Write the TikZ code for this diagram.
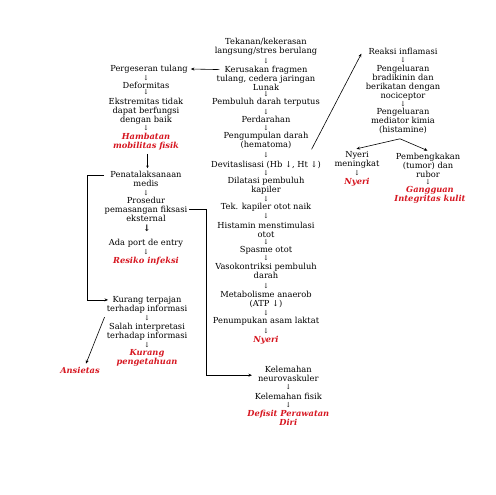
\documentclass[tikz,border=0pt]{standalone}
\usepackage{fontspec}
\setmainfont{DejaVu Serif}
\usetikzlibrary{arrows.meta}

\definecolor{diagred}{RGB}{214,22,32}

\tikzset{
    lbl/.style={font=\fontsize{8.3}{9}\selectfont, align=center, inner sep=0pt},
    warn/.style={lbl, font=\fontsize{8.3}{9}\selectfont\bfseries\itshape, text=diagred},
    dn/.style={lbl, font=\fontsize{7}{7}\selectfont},
    flow/.style={-{Stealth[length=3.5pt,width=3pt]}, line width=0.6pt},
}

\begin{document}
\begin{tikzpicture}[x=1pt,y=-1pt]

        \path[use as bounding box] (0,0) rectangle (495,495);

        %central chain
        \node[lbl] (tekanan) at (266,46.7) {Tekanan/kekerasan\\langsung/stres berulang};
        \node[dn] (c1) at (266,60.7) {↓};
        \node[lbl] (kerusakan) at (266,78) {Kerusakan fragmen\\tulang, cedera jaringan\\Lunak};
        \node[dn] (c2) at (266,94.3) {↓};
        \node[lbl] (pembuluh) at (266,102.7) {Pembuluh darah terputus};
        \node[dn] (c3) at (266,111.7) {↓};
        \node[lbl] (perdarahan) at (266,119.3) {Perdarahan};
        \node[dn] (c4) at (266,127.7) {↓};
        \node[lbl] (pengumpulan) at (266,140.8) {Pengumpulan darah\\(hematoma)};
        \node[dn] (c5) at (266,155.5) {↓};
        \node[lbl] (devital) at (266,165) {Devitaslisasi (Hb ↓, Ht ↓)};
        \node[dn] (c6) at (266,173) {↓};
        \node[lbl] (dilatasi) at (266,186.2) {Dilatasi pembuluh\\kapiler};
        \node[dn] (c7) at (266,199) {↓};
        \node[lbl] (tek) at (266,207) {Tek. kapiler otot naik};
        \node[dn] (c8) at (266,216) {↓};
        \node[lbl] (histamin) at (266,229.5) {Histamin menstimulasi\\otot};
        \node[dn] (c9) at (266,241.7) {↓};
        \node[lbl] (spasme) at (266,250) {Spasme otot};
        \node[dn] (c10) at (266,258) {↓};
        \node[lbl] (vaso) at (266,271.3) {Vasokontriksi pembuluh\\darah};
        \node[dn] (c11) at (266,286) {↓};
        \node[lbl] (metab) at (266,299.5) {Metabolisme anaerob\\(ATP ↓)};
        \node[dn] (c12) at (266,312.7) {↓};
        \node[lbl] (laktat) at (266,321.7) {Penumpukan asam laktat};
        \node[dn] (c13) at (266,331) {↓};
        \node[warn] (nyeri) at (266,340) {Nyeri};

        %left chain
        \node[lbl] (pergeseran) at (149,69) {Pergeseran tulang};
        \node[dn] (l1) at (146,77.7) {↓};
        \node[lbl] (deformitas) at (146,85) {Deformitas};
        \node[dn] (l2) at (146,92.3) {↓};
        \node[lbl] (ekstremitas) at (146,111) {Ekstremitas tidak\\dapat berfungsi\\dengan baik};
        \node[dn] (l3) at (146,128.3) {↓};
        \node[warn] (hambatan) at (146,141.2) {Hambatan\\mobilitas fisik};

        \node[lbl] (penata) at (146,179) {Penatalaksanaan\\medis};
        \node[dn] (l4) at (146,192.7) {↓};
        \node[lbl] (prosedur) at (146,209.2) {Prosedur\\pemasangan fiksasi\\eksternal};
        \node[dn, font=\fontsize{9}{9}\selectfont\bfseries] (l5) at (147,228.3) {↓};
        \node[lbl] (port) at (146,243.3) {Ada port de entry};
        \node[dn] (l6) at (146,251.7) {↓};
        \node[warn] (infeksi) at (146,261) {Resiko infeksi};

        %information chain
        \node[lbl] (terpajan) at (147,304.5) {Kurang terpajan\\terhadap informasi};
        \node[dn] (i1) at (147,318.3) {↓};
        \node[lbl] (salah) at (147,332.2) {Salah interpretasi\\terhadap informasi};
        \node[dn] (i2) at (147,345) {↓};
        \node[warn] (pengetahuan) at (147,357.8) {Kurang\\pengetahuan};
        \node[warn] (ansietas) at (80,370) {Ansietas};

        %weakness chain
        \node[lbl] (kelemahan) at (288.3,373.7) {Kelemahan\\neurovaskuler};
        \node[dn] (w1) at (288.3,387.3) {↓};
        \node[lbl] (fisik) at (288.3,396.7) {Kelemahan fisik};
        \node[dn] (w2) at (288.3,405) {↓};
        \node[warn] (defisit) at (288.3,417.5) {Defisit Perawatan\\Diri};

        %inflammation chain
        \node[lbl] (reaksi) at (403,51.7) {Reaksi inflamasi};
        \node[dn] (r1) at (403,60.5) {↓};
        \node[lbl] (bradikinin) at (403,82.3) {Pengeluaran\\bradikinin dan\\berikatan dengan\\nociceptor};
        \node[dn] (r2) at (403,104) {↓};
        \node[lbl] (mediator) at (403,121.3) {Pengeluaran\\mediator kimia\\(histamine)};
        \node[lbl] (meningkat) at (357,160) {Nyeri\\meningkat};
        \node[dn] (r3) at (357,173.5) {↓};
        \node[warn] (nyeri2) at (357,182.5) {Nyeri};
        \node[lbl] (bengkak) at (428,165) {Pembengkakan\\(tumor) dan\\rubor};
        \node[dn] (r4) at (428,182) {↓};
        \node[warn] (kulit) at (430,194.5) {Gangguan\\Integritas kulit};

        %connectors
        \draw[flow] ([xshift=3pt,yshift=-4pt]kerusakan.north west) -- ([xshift=3pt]pergeseran.east);
        \draw[flow] ([xshift=3pt]pengumpulan.south east) -- ([xshift=-7pt,yshift=-2pt]reaksi.west);

        \coordinate (fork) at ([xshift=-3pt,yshift=-4.5pt]mediator.south);
        \draw[flow] (fork) -- ([xshift=-0.5pt,yshift=2.5pt]meningkat.north);
        \draw[flow] (fork) -- ([xshift=-0.5pt,yshift=2pt]bengkak.north);

        \draw[-{Stealth[length=2.5pt,width=2.5pt]}, line width=0.6pt, shorten <=4pt, shorten >=3pt] ([xshift=1.5pt]hambatan.south) -- ([xshift=1.5pt]penata.north);

        %brackets
        \draw[flow] ([xshift=-6pt,yshift=-4pt]penata.north west) -- ++(-16.6,0) |- ([xshift=1.5pt,yshift=-4pt]terpajan.north west);
        \draw[flow] ([xshift=2pt]prosedur.east) -- ++(17,0) |- ([xshift=-6pt,yshift=-1.5pt]kelemahan.west);
        \draw[flow] ([xshift=-2pt,yshift=-4pt]terpajan.south west) -- ([xshift=6pt,yshift=3pt]ansietas.north);

\end{tikzpicture}
\end{document}
